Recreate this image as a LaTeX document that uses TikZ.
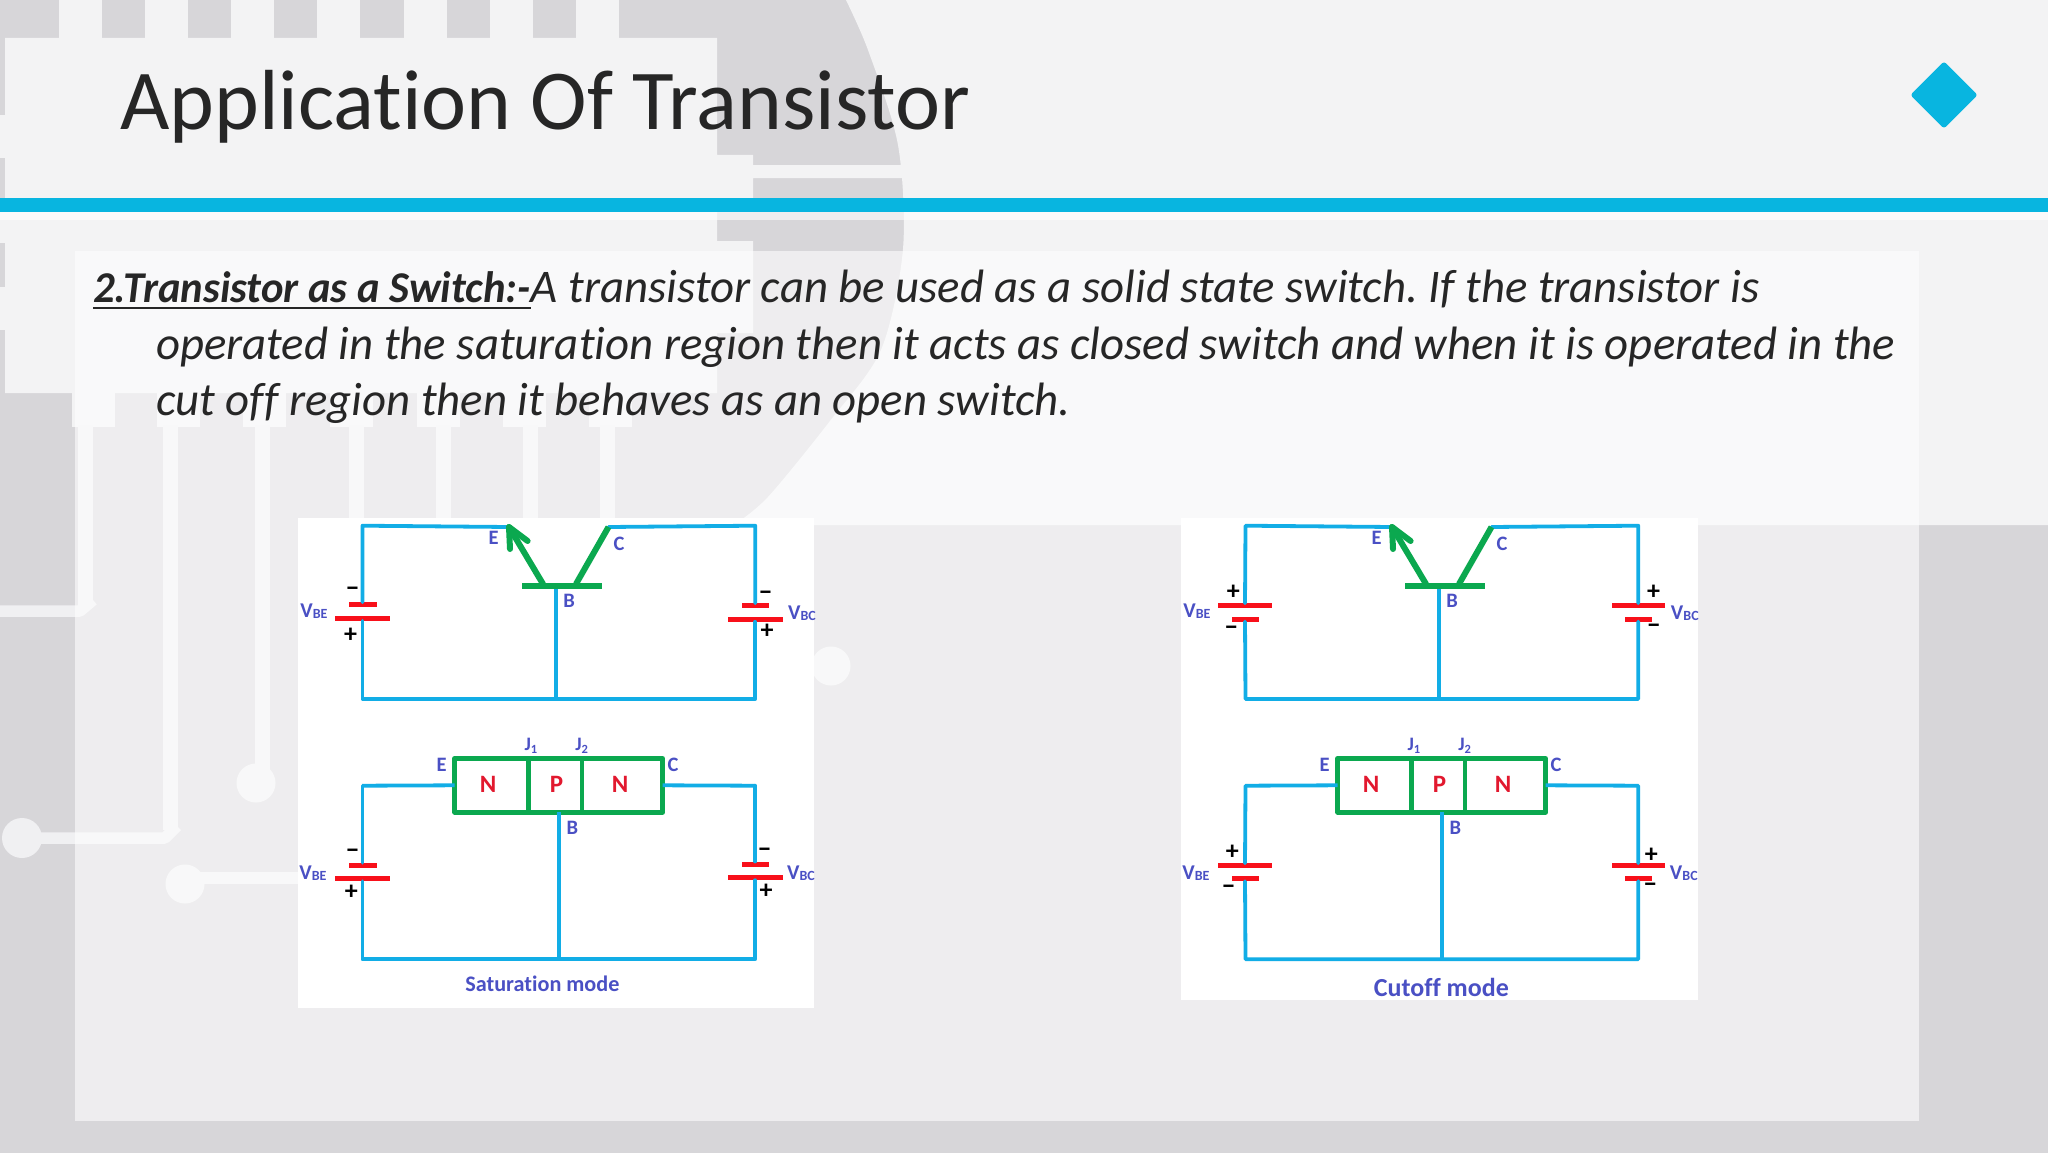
\documentclass[tikz,border=0pt]{standalone}
\usepackage{fontspec}
\setmainfont[Ligatures=NoCommon]{Carlito}
\newfontface\headfont[Ligatures=NoCommon,FakeStretch=0.97]{Carlito Bold Italic}
\frenchspacing
\definecolor{basegray}{HTML}{D7D6D9}
\definecolor{lightbg}{HTML}{F3F3F4}
\definecolor{tracec}{HTML}{F0F0F2}
\definecolor{barblue}{HTML}{08B5E0}
\definecolor{wireblue}{HTML}{12ADE6}
\definecolor{trgreen}{HTML}{0BA84F}
\definecolor{batred}{HTML}{F8101A}
\definecolor{labblue}{HTML}{4A50C4}
\definecolor{inkc}{HTML}{262626}
\definecolor{npnred}{HTML}{E2182E}
\tikzset{
  wire/.style={draw=wireblue,line width=3.8pt,line join=round,line cap=round},
  grn/.style={draw=trgreen,line width=6pt,line join=round,line cap=round},
  plate/.style={fill=batred,inner sep=0pt,outer sep=0pt,minimum height=5pt},
  basebar/.style={fill=trgreen,inner sep=0pt,outer sep=0pt,minimum height=6pt,minimum width=80pt},
  slab/.style={draw=trgreen,line width=4.5pt,line join=round,inner sep=0pt,outer sep=0pt,minimum height=54pt},
  npn/.style={text=npnred,inner sep=0pt,font=\fontsize{25}{25}\selectfont\bfseries},
  lab/.style={text=labblue,inner sep=0pt,font=\fontsize{20.5}{20.5}\selectfont\bfseries},
  sign/.style={text=black,inner sep=0pt,font=\fontsize{26}{26}\selectfont\bfseries},
  bodyline/.style={text=inkc,inner sep=0pt,anchor=base west,font=\fontsize{46.8}{50}\selectfont\itshape},
  trace/.style={draw=tracec,line width=15pt},
  thin trace/.style={draw=tracec,line width=11.5pt},
  pad/.style={fill=lightbg,draw=none}
}
\newcommand\vlabel[1]{{\fontsize{21}{21}\selectfont V}{\fontsize{14}{14}\selectfont\raisebox{-0.6pt}{#1}}}
\newcommand\jlabel[1]{{\fontsize{19}{19}\selectfont J}{\fontsize{12.5}{12.5}\selectfont\raisebox{-3pt}{#1}}}
% name, x, y of upper plate, y of lower plate, width of upper plate, width of lower plate
\newcommand\battery[6]{%
  \node[plate,minimum width=#5pt] (#1-t) at (#2,#3) {};
  \node[plate,minimum width=#6pt] (#1-b) at (#2,#4) {};
}
% #1 = battery and sign nodes
\newcommand\circuitpair[1]{%
  #1
  % coordinates
  \coordinate (tl) at (362.5,525.7);
  \coordinate (tr) at (755.2,525.7);
  \coordinate (bl) at (362.5,699);
  \coordinate (br) at (755.2,699);
  \coordinate (etip) at (509,527);
  \coordinate (ebar1) at (510,549);
  \coordinate (ebar2) at (527.6,541);
  \coordinate (etail) at (543,584);
  \coordinate (ctip) at (608.5,527);
  \coordinate (ctail) at (576,584);
  \coordinate (bj) at (556,699);
  \coordinate (tl2) at (362.5,785.7);
  \coordinate (tr2) at (755.2,785.7);
  \coordinate (bl2) at (362.5,959.3);
  \coordinate (br2) at (755.2,959.3);
  \coordinate (bj2) at (558.6,959.3);
  % upper circuit
  \node[basebar] (base) at (562,585.7) {};
  \draw[wire] (lt-t.north) -- (tl) -- (etip);
  \draw[wire] (ctip) -- (tr) -- (rt-t.north);
  \draw[wire] (lt-b.south) -- (bl) -- (br) -- (rt-b.south);
  \draw[wire,line cap=butt] (base.south -| bj) -- (bj);
  \draw[grn] (etail) -- (etip);
  \draw[grn] (ebar1) -- (etip) -- (ebar2);
  \draw[grn,line cap=butt] (ctail) -- (ctip);
  \node[lab] (lE) at (493.5,538) {E};
  \node[lab] (lC) at (619,544) {C};
  \node[lab] (lB) at (569,601) {B};
  % lower circuit
  \node[slab,minimum width=74pt] (n1) at (491.6,785.3) {};
  \node[slab,minimum width=53.4pt] (p) at (555.3,785.3) {};
  \node[slab,minimum width=80.6pt] (n2) at (622.3,785.3) {};
  \node[npn] (tn1) at (488,784.5) {N};
  \node[npn] (tp) at (556.5,784.5) {P};
  \node[npn] (tn2) at (620,784.5) {N};
  \draw[wire,line cap=butt] (n1.west) -- (tl2);
  \draw[wire] (tl2) -- (lb-t.north);
  \draw[wire,line cap=butt] (n2.east) -- (tr2);
  \draw[wire] (tr2) -- (rb-t.north);
  \draw[wire] (lb-b.south) -- (bl2) -- (br2) -- (rb-b.south);
  \draw[wire,line cap=butt] (p.south -| bj2) -- (bj2);
  \node[lab] (lJ1) at (531,746) {\jlabel{1}};
  \node[lab] (lJ2) at (581.7,746) {\jlabel{2}};
  \node[lab] (lE2) at (441.5,765) {E};
  \node[lab] (lC2) at (673,765) {C};
  \node[lab] (lB2) at (572.4,827.7) {B};
}
\begin{document}
\begin{tikzpicture}[x=1pt,y=-1pt]
\useasboundingbox (0,0) rectangle (2048,1153);
% ---- background
\fill[basegray] (0,0) rectangle (2048,1153);
\fill[lightbg] plot[smooth] coordinates {(845,-2) (868,50) (898,145) (903,249) (881,350) (830,421) (768,497) (734,525)} -- (2048,525) -- (2048,-2) -- cycle;
\path[pad] (5,38) -- (717,38) -- (717,155) -- (753,155) -- (753,165) -- (902,165) -- (902,178) -- (753,178) -- (753,212) -- (717,212) -- (717,241) -- (753,241) -- (753,333) -- (717,333) -- (717,393) -- (5,393) -- cycle;
\foreach \xa in {59,145,231,317,404,490,576} \fill[lightbg] (\xa,0) rectangle (\xa+43,39);
\foreach \ya in {115,200,287} \fill[lightbg] (0,\ya) rectangle (6,\ya+43);
\foreach \xa in {72,157,243,330,417,503,589} \fill[lightbg] (\xa,392) rectangle (\xa+43,427);
\foreach \xa in {356,443,530,607} \draw[trace] (\xa,425) -- (\xa,530);
\draw[trace] (85,425) -- (85,605);
\draw[thin trace,line join=round] (93,600) -- (80,611) -- (0,611);
\draw[trace] (170,425) -- (170,830);
\draw[thin trace,line join=round] (177,826) -- (165,838) -- (22,838);
\draw[trace] (262,425) -- (262,783);
\fill[tracec] (22,838) circle[radius=20];
\fill[tracec] (256,783) circle[radius=19.5];
\fill[tracec] (185,884) circle[radius=19.5];
\draw[thin trace] (185,878) -- (300,878);
\fill[tracec] (831,666) circle[radius=19.5];
% ---- panel, bar, diamond
\fill[white,opacity=0.58] (75,251) rectangle (1919,1121);
\fill[white,opacity=0.6] (0,212) rectangle (2048,220);
\fill[barblue] (0,198) rectangle (2048,212);
\fill[barblue,draw=barblue,line width=5pt,line join=round] (1944,65) -- (1974,95) -- (1944,125) -- (1914,95) -- cycle;
% ---- title and text
\node[text=inkc,inner sep=0pt,anchor=base west,font=\fontsize{85.3}{90}\selectfont] (title) at (120,129.5) {Application Of Transistor};
\node[bodyline,font=\fontsize{44}{50}\headfont] (headb) at (93,302.5) {2.Transistor as a Switch:-};
\node[bodyline] (headr) at (headb.base east) {A transistor can be used as a solid state switch. If the transistor is};
\fill[inkc] ([yshift=-4pt]headb.base west) rectangle ([yshift=-6.5pt]headb.base east);
\node[bodyline] (line2) at (156,359) {operated in the saturation region then it acts as closed switch and when it is operated in the};
\node[bodyline] (line3) at (156,415.5) {cut off region then it behaves as an open switch.};
% ---- image boxes
\fill[white] (298,517.5) rectangle (814,1008);
\fill[white] (1181,517.5) rectangle (1697.5,1000);
% ---- saturation mode
\begin{scope}[name prefix=s-]
\circuitpair{%
  \battery{lt}{362.5}{604.7}{618.3}{28}{55}
  \battery{rt}{755.2}{605.7}{619.3}{27}{55}
  \battery{lb}{362.5}{865.3}{878.7}{28}{55}
  \battery{rb}{755.2}{864}{877.7}{27}{55}
  \node[sign] (ltm) at (352.7,592) {−};
  \node[sign] (ltp) at (350.6,635) {+};
  \node[sign] (rtm) at (765.6,596) {−};
  \node[sign] (rtp) at (767,631.7) {+};
  \node[sign] (lbm) at (352.7,853.3) {−};
  \node[sign] (lbp) at (351.3,892.3) {+};
  \node[sign] (rbm) at (764.5,852.7) {−};
  \node[sign] (rbp) at (766,891) {+};
  \node[lab] (vt1) at (314,611) {\vlabel{BE}};
  \node[lab] (vt2) at (802,613) {\vlabel{BC}};
  \node[lab] (vb1) at (313,873) {\vlabel{BE}};
  \node[lab] (vb2) at (801,873) {\vlabel{BC}};
}
\node[lab,font=\fontsize{22.2}{22}\selectfont\bfseries] (cap) at (542.4,983.3) {Saturation mode};
\end{scope}
% ---- cutoff mode
\begin{scope}[xshift=883pt,name prefix=c-]
\circuitpair{%
  \battery{lt}{362}{605.7}{619}{54}{27}
  \battery{rt}{755.3}{605.7}{619}{53}{27}
  \battery{lb}{362}{865.7}{878.7}{54}{27}
  \battery{rb}{755.3}{865.7}{878.7}{53}{27}
  \node[sign] (ltp) at (350.4,592) {+};
  \node[sign] (ltm) at (348.3,630.3) {−};
  \node[sign] (rtp) at (770.5,592) {+};
  \node[sign] (rtm) at (770.8,629) {−};
  \node[sign] (lbp) at (349.3,852.7) {+};
  \node[sign] (lbm) at (345.5,890) {−};
  \node[sign] (rbp) at (768.4,855) {+};
  \node[sign] (rbm) at (767.4,887.7) {−};
  \node[lab] (vt1) at (314,611) {\vlabel{BE}};
  \node[lab] (vt2) at (801.8,613) {\vlabel{BC}};
  \node[lab] (vb1) at (313,873) {\vlabel{BE}};
  \node[lab] (vb2) at (800.8,873) {\vlabel{BC}};
}
\node[lab,font=\fontsize{26}{26}\selectfont\bfseries] (cap) at (558.4,987.7) {Cutoff mode};
\end{scope}
\end{tikzpicture}
\end{document}
